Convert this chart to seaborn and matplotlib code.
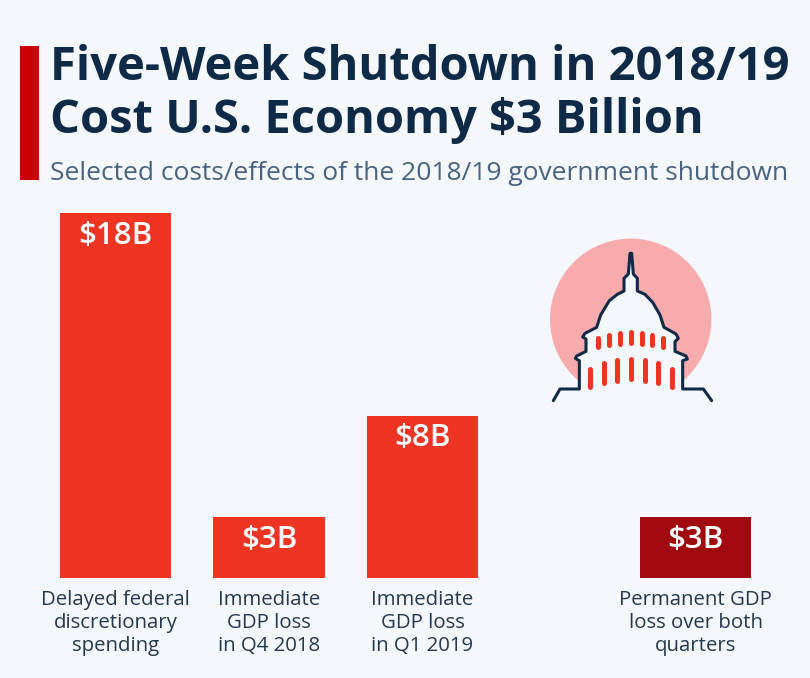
import matplotlib
matplotlib.use('Agg')
import matplotlib.pyplot as plt
from matplotlib.patches import Circle, Polygon, Rectangle
import pandas as pd
import seaborn as sns

# Data
labels = ['Delayed federal\ndiscretionary\nspending', 'Immediate\nGDP loss\nin Q4 2018',
          'Immediate\nGDP loss\nin Q1 2019', 'Permanent GDP\nloss over both\nquarters']
values = [18, 3, 8, 3]
value_text = ['$18B', '$3B', '$8B', '$3B']
groups = ['part', 'part', 'part', 'total']

# gap before the last bar is wider than the others
slots = [0, 1, 2, 3.78]

BG = '#f4f7fb'
NAVY = '#0f2a47'
RED = '#ee3524'

sns.set_theme(style='white')
plt.rcParams['font.family'] = ['Open Sans', 'DejaVu Sans']

df = pd.DataFrame({'slot': slots, 'value': values, 'group': groups})

fig = plt.figure(figsize=(8.1, 6.78), dpi=100, facecolor=BG)
ax = fig.add_axes([0, 100 / 678, 1, 365 / 678], facecolor='none')

sns.barplot(data=df, x='slot', y='value', hue='group', native_scale=True, dodge=False,
            palette={'part': RED, 'total': '#a0090e'}, width=0.725, saturation=1,
            linewidth=0, legend=False, ax=ax)

ax.set_xlim(-115.5 / 153.5, (810 - 115.5) / 153.5)
ax.set_ylim(0, 18)
ax.set_xticks(slots)
ax.set_xticklabels(labels, fontsize=14.7, color='#24384f', linespacing=1.19)
ax.set_yticks([])
ax.set_xlabel('')
ax.set_ylabel('')
ax.tick_params(axis='x', length=0, pad=8.5)
sns.despine(ax=ax, left=True, bottom=True)

for slot, value, txt in zip(slots, values, value_text):
    ax.annotate(txt, (slot, value), xytext=(0, -5.5), textcoords='offset points',
                ha='center', va='top', color='white', fontsize=22.5, fontweight='semibold')

# Header and icon sit on a pixel-sized overlay
over = fig.add_axes([0, 0, 1, 1], facecolor='none')
over.set_xlim(0, 810)
over.set_ylim(678, 0)
over.axis('off')

over.add_patch(Rectangle((19.5, 46), 19.5, 134, color='#cc0000', lw=0))
over.text(50, 67.5, 'Five-Week Shutdown in 2018/19', fontsize=33.9, fontweight='bold',
          color=NAVY, va='center', ha='left')
over.text(50, 121, 'Cost U.S. Economy $3 Billion', fontsize=33.8, fontweight='bold',
          color=NAVY, va='center', ha='left')
over.text(50, 174, 'Selected costs/effects of the 2018/19 government shutdown', fontsize=19.0,
          color='#4a6382', va='center', ha='left')


def ix(x):
    return 530 + x / 3


def iy(y):
    return 230 + y / 3


# Capitol icon
over.add_patch(Circle((630.7, 319.3), 80.7, color='#f7abad', lw=0))

outline = [(70, 512), (90, 477), (148, 477), (148, 392), (136, 385), (140, 378), (168, 364),
           (168, 327), (158, 321), (165, 310), (200, 292), (212, 255), (238, 212), (262, 193),
           (282, 183), (282, 145), (295, 132), (300, 70), (305, 70), (310, 132), (322, 145),
           (322, 183), (345, 193), (368, 217), (390, 255), (402, 292), (438, 312), (445, 325),
           (435, 335), (435, 364), (468, 378), (472, 387), (458, 392), (458, 477), (520, 477),
           (545, 512)]
body = [(ix(x), iy(y)) for x, y in outline[2:-2]]
over.add_patch(Polygon(body, closed=True, facecolor=BG, edgecolor='none'))
over.add_patch(Rectangle((ix(148), iy(477)), ix(458) - ix(148), 60, color=BG, lw=0, zorder=1))
over.plot([ix(p[0]) for p in outline], [iy(p[1]) for p in outline], color=NAVY, lw=2.2,
          solid_joinstyle='round', solid_capstyle='round', zorder=3)

upper = [(205, 325, 350), (238, 315, 345), (270, 310, 341), (302, 306, 340), (335, 310, 342),
         (367, 315, 346), (399, 325, 352)]
lower = [(181, 416, 470), (222, 400, 458), (262, 391, 452), (303, 388, 447), (344, 391, 452),
         (385, 400, 460), (425, 416, 470)]
for x, y0, y1 in upper + lower:
    over.plot([ix(x), ix(x)], [iy(y0), iy(y1)], color=RED, lw=3.6, solid_capstyle='round', zorder=3)

fig.savefig('out.png', dpi=100, facecolor=BG)
